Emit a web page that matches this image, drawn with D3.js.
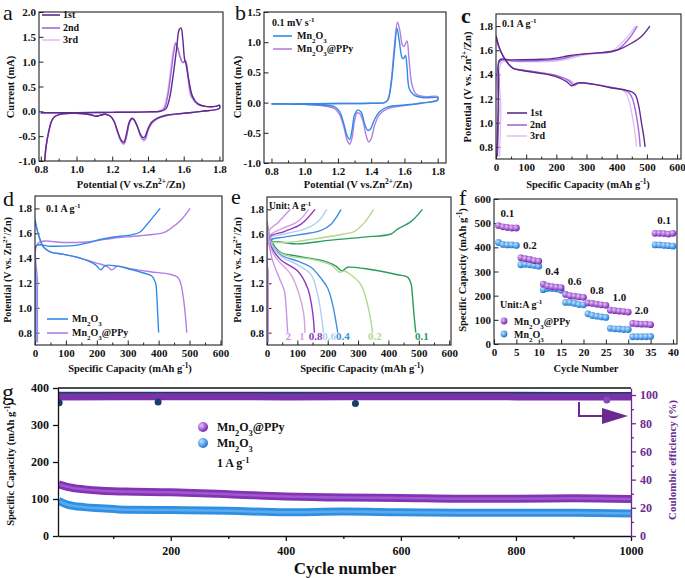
<!DOCTYPE html>
<html><head><meta charset="utf-8">
<script src="https://cdn.jsdelivr.net/npm/d3@7"></script>
<style>
body{margin:0;background:#fff;}
svg text{font-family:"Liberation Serif","Times New Roman",serif;font-weight:bold;}
</style></head><body>
<svg id="fig" width="685" height="578"></svg>
<script>
// ---------- DATA ----------
// (a) CV curves, three cycles [V, mA]
const cvA1 = [[0.80,-0.03],[1.0,-0.025],[1.2,-0.02],[1.4,-0.01],[1.47,0.0],[1.50,0.05],[1.52,0.25],[1.54,0.7],[1.56,1.25],[1.575,1.65],[1.585,1.68],[1.595,1.45],[1.605,1.05],[1.615,0.92],[1.63,0.6],[1.65,0.3],[1.68,0.15],[1.72,0.1],[1.78,0.1],[1.80,0.12],
  [1.80,0.06],[1.7,0.0],[1.6,-0.04],[1.5,-0.08],[1.45,-0.14],[1.42,-0.22],[1.40,-0.35],[1.385,-0.5],[1.375,-0.53],[1.36,-0.48],[1.34,-0.3],[1.32,-0.16],[1.31,-0.14],[1.295,-0.22],[1.28,-0.45],[1.265,-0.62],[1.25,-0.58],[1.23,-0.4],[1.21,-0.2],[1.19,-0.1],[1.16,-0.06],[1.13,-0.08],[1.11,-0.1],[1.08,-0.07],[1.0,-0.04],[0.92,-0.05],[0.88,-0.1],[0.86,-0.2],[0.845,-0.4],[0.83,-0.7],[0.822,-1.0]];
const cvA2 = [[0.80,-0.03],[1.0,-0.025],[1.2,-0.02],[1.4,-0.01],[1.46,0.0],[1.49,0.05],[1.51,0.3],[1.53,0.8],[1.545,1.2],[1.555,1.38],[1.565,1.3],[1.58,1.1],[1.595,0.98],[1.61,1.02],[1.625,0.7],[1.645,0.3],[1.68,0.14],[1.72,0.1],[1.78,0.1],[1.80,0.12],
  [1.80,0.06],[1.7,0.0],[1.6,-0.04],[1.5,-0.09],[1.45,-0.15],[1.42,-0.24],[1.40,-0.38],[1.385,-0.55],[1.375,-0.57],[1.36,-0.5],[1.34,-0.3],[1.32,-0.16],[1.31,-0.15],[1.295,-0.24],[1.28,-0.5],[1.265,-0.65],[1.25,-0.6],[1.23,-0.42],[1.21,-0.2],[1.19,-0.1],[1.16,-0.06],[1.13,-0.08],[1.11,-0.1],[1.08,-0.07],[1.0,-0.04],[0.92,-0.05],[0.88,-0.1],[0.86,-0.2],[0.845,-0.4],[0.83,-0.7],[0.822,-1.0]];
const cvA3 = [[0.80,-0.03],[1.0,-0.025],[1.2,-0.02],[1.4,-0.01],[1.455,0.0],[1.485,0.06],[1.505,0.3],[1.525,0.8],[1.54,1.2],[1.552,1.36],[1.562,1.3],[1.578,1.1],[1.595,0.98],[1.608,1.0],[1.622,0.7],[1.64,0.3],[1.68,0.14],[1.72,0.1],[1.78,0.1],[1.80,0.12],
  [1.80,0.06],[1.7,0.0],[1.6,-0.04],[1.5,-0.09],[1.45,-0.16],[1.42,-0.26],[1.40,-0.4],[1.385,-0.58],[1.375,-0.6],[1.36,-0.52],[1.34,-0.3],[1.32,-0.16],[1.31,-0.15],[1.295,-0.25],[1.28,-0.52],[1.265,-0.67],[1.25,-0.62],[1.23,-0.43],[1.21,-0.2],[1.19,-0.1],[1.16,-0.06],[1.13,-0.08],[1.11,-0.1],[1.08,-0.07],[1.0,-0.04],[0.92,-0.05],[0.88,-0.1],[0.86,-0.2],[0.845,-0.4],[0.83,-0.7],[0.822,-1.0]];
// (b) CV Mn2O3 vs Mn2O3@PPy
const cvBMn = [[0.80,-0.02],[1.0,-0.02],[1.2,-0.015],[1.4,-0.01],[1.48,0.0],[1.50,0.04],[1.52,0.3],[1.54,0.85],[1.555,1.23],[1.57,1.0],[1.585,0.75],[1.595,0.73],[1.606,0.78],[1.615,0.6],[1.63,0.22],[1.66,0.12],[1.72,0.08],[1.80,0.08],
  [1.80,0.04],[1.7,-0.01],[1.6,-0.04],[1.5,-0.07],[1.45,-0.15],[1.42,-0.28],[1.395,-0.44],[1.38,-0.46],[1.36,-0.35],[1.34,-0.16],[1.32,-0.12],[1.30,-0.2],[1.285,-0.45],[1.27,-0.61],[1.255,-0.55],[1.235,-0.35],[1.21,-0.15],[1.18,-0.07],[1.1,-0.04],[1.0,-0.03],[0.9,-0.025],[0.80,-0.025]];
const cvBPPy = [[0.80,-0.02],[1.0,-0.02],[1.2,-0.015],[1.4,-0.01],[1.48,0.0],[1.50,0.05],[1.52,0.35],[1.54,0.95],[1.558,1.33],[1.572,1.2],[1.588,0.95],[1.598,0.93],[1.615,1.02],[1.628,0.7],[1.645,0.3],[1.67,0.14],[1.72,0.1],[1.80,0.1],
  [1.80,0.05],[1.7,-0.01],[1.6,-0.05],[1.5,-0.1],[1.45,-0.2],[1.42,-0.38],[1.40,-0.6],[1.385,-0.65],[1.37,-0.55],[1.35,-0.3],[1.33,-0.18],[1.315,-0.17],[1.30,-0.3],[1.285,-0.58],[1.27,-0.69],[1.255,-0.62],[1.235,-0.4],[1.21,-0.2],[1.18,-0.1],[1.1,-0.05],[1.0,-0.03],[0.9,-0.025],[0.80,-0.025]];
// (c) GCD 1st/2nd/3rd at 0.1 A/g [mAh/g, V]
const c1Dis = [[0,1.72],[10,1.63],[24,1.55],[40,1.49],[57,1.45],[91,1.43],[146,1.41],[201,1.38],[234,1.34],[251,1.305],[262,1.32],[272,1.33],[320,1.32],[380,1.29],[430,1.27],[450,1.255],[462,1.23],[472,1.15],[482,1.0],[490,0.88],[494,0.8]];
const c2Dis = [[0,1.71],[10,1.62],[24,1.55],[40,1.49],[57,1.45],[91,1.435],[146,1.415],[201,1.39],[240,1.35],[258,1.31],[270,1.325],[280,1.33],[320,1.32],[380,1.295],[425,1.27],[440,1.25],[452,1.2],[462,1.1],[472,0.95],[478,0.8]];
const c3Dis = [[0,1.7],[10,1.62],[24,1.55],[40,1.49],[57,1.45],[91,1.435],[146,1.415],[201,1.39],[246,1.35],[265,1.315],[278,1.33],[320,1.32],[380,1.29],[420,1.27],[432,1.24],[442,1.17],[452,1.05],[460,0.92],[466,0.8]];
const c1Chg = [[3,0.72],[6,1.0],[9,1.35],[12,1.52],[50,1.52],[150,1.525],[200,1.535],[240,1.555],[290,1.57],[350,1.58],[400,1.6],[420,1.62],[450,1.66],[480,1.71],[510,1.8]];
const c2Chg = [[5,0.72],[9,1.1],[14,1.51],[60,1.51],[150,1.515],[210,1.525],[260,1.555],[300,1.57],[380,1.585],[400,1.6],[420,1.64],[445,1.71],[468,1.8]];
const c3Chg = [[12,0.72],[16,1.1],[20,1.5],[80,1.505],[200,1.51],[250,1.535],[300,1.565],[380,1.585],[395,1.61],[420,1.67],[445,1.74],[462,1.8]];
// (d) GCD Mn2O3 vs Mn2O3@PPy
const dMnDis = [[0,1.71],[10,1.6],[27,1.49],[49,1.45],[92,1.43],[146,1.40],[194,1.35],[213,1.305],[227,1.34],[265,1.335],[308,1.31],[351,1.28],[378,1.255],[390,1.2],[394,1.1],[397,0.95],[400,0.8]];
const dPPyDis = [[0,1.7],[10,1.6],[27,1.49],[49,1.45],[92,1.43],[146,1.40],[200,1.36],[235,1.33],[248,1.305],[258,1.32],[267,1.335],[308,1.315],[373,1.29],[437,1.27],[462,1.245],[472,1.19],[480,1.08],[486,0.95],[491,0.8]];
const dMnChg = [[3,0.72],[3,1.2],[4,1.5],[49,1.495],[124,1.50],[167,1.52],[211,1.55],[254,1.57],[308,1.585],[340,1.61],[362,1.67],[385,1.74],[405,1.8]];
const dPPyChg = [[8,0.72],[8,1.2],[10,1.52],[92,1.525],[167,1.53],[254,1.56],[340,1.58],[416,1.605],[440,1.64],[470,1.7],[502,1.8]];
// (e) rate GCD curves
const rateLabels = ["0.1","0.2","0.4","0.6","0.8","1","2"];
const e01Dis = [[0,1.7],[5,1.62],[13,1.56],[25,1.5],[46,1.45],[101,1.42],[189,1.38],[227,1.34],[246,1.30],[256,1.315],[265,1.33],[320,1.32],[430,1.27],[463,1.25],[474,1.2],[479,1.1],[484,0.95],[490,0.8]];
const e01Chg = [[2,0.72],[3,1.2],[4,1.52],[101,1.52],[211,1.55],[320,1.575],[408,1.6],[430,1.64],[474,1.7],[512,1.8]];
const e02Dis = [[0,1.7],[13,1.53],[30,1.47],[57,1.43],[156,1.39],[211,1.35],[238,1.29],[247,1.295],[254,1.30],[276,1.27],[309,1.19],[331,1.03],[348,0.8]];
const e02Chg = [[3,0.72],[4,1.2],[6,1.52],[50,1.53],[101,1.54],[156,1.56],[254,1.6],[287,1.62],[320,1.69],[351,1.8]];
const e04Dis = [[0,1.7],[13,1.52],[46,1.43],[101,1.38],[145,1.33],[178,1.24],[200,1.16],[216,1.03],[227,0.89],[233,0.8]];
const e04Chg = [[3,0.72],[4,1.2],[6,1.54],[57,1.575],[123,1.60],[178,1.63],[211,1.68],[244,1.8]];
const e06Dis = [[0,1.7],[13,1.52],[46,1.42],[101,1.35],[145,1.27],[167,1.11],[180,0.92],[186,0.8]];
const e06Chg = [[3,0.72],[4,1.2],[6,1.56],[57,1.6],[123,1.64],[167,1.7],[197,1.8]];
const e08Dis = [[0,1.7],[13,1.5],[46,1.39],[101,1.30],[134,1.16],[150,0.97],[156,0.8]];
const e08Chg = [[3,0.72],[4,1.2],[6,1.57],[57,1.62],[112,1.68],[158,1.8]];
const e1Dis = [[0,1.7],[13,1.48],[35,1.39],[79,1.27],[106,1.11],[121,0.95],[125,0.8]];
const e1Chg = [[3,0.72],[4,1.2],[6,1.58],[46,1.64],[101,1.7],[137,1.8]];
const e2Dis = [[0,1.7],[8,1.5],[19,1.38],[41,1.24],[57,1.14],[63,1.0],[68,0.8]];
const e2Chg = [[2,0.72],[3,1.2],[5,1.62],[35,1.69],[77,1.8]];
// (f) rate performance
const fCycles = d3.range(1, 41);
const fPPy = [490,485,482,480,480, 357,353,350,345,343, 248,240,237,235,233, 205,200,198,195,193, 170,168,165,162,160, 140,138,136,134,132, 85,83,82,82,80, 458,458,457,455,458];
const fMn  = [420,412,410,410,408, 328,330,328,325,322, 225,230,230,228,222, 172,172,168,163,162, 125,118,115,112,110, 65,63,62,60,60, 30,30,30,30,31, 410,410,408,407,405];
const fRateText = ["0.1","0.2","0.4","0.6","0.8","1.0","2.0","0.1"];
// (g) long cycling at 1 A/g
const gPPy = [[5,140],[20,133],[50,126],[80,122],[120,120],[200,118],[300,113],[400,107],[500,104],[600,103],[700,101],[800,101],[900,102],[1000,100]];
const gMn  = [[5,95],[20,85],[50,78],[80,75],[120,71],[200,70],[300,68],[400,64],[500,66],[600,64],[700,63],[800,63],[900,63],[1000,61]];
const ceMn  = [[5,100.5],[200,100.6],[400,100.5],[600,100.6],[800,100.5],[1000,100.4]];
const cePPy = [[5,98.6],[200,98.8],[400,98.7],[600,98.8],[800,98.7],[1000,98.7]];
const ceMnDips = [[6,94.5],[178,95],[521,94]];
const cePPyDips = [[958,96.5]];

// ---------- DRAWING ----------
const svg = d3.select('#fig');
const defs = svg.append('defs');
function sphereGrad(id, c0, c1){
  const g = defs.append('radialGradient').attr('id', id).attr('cx','35%').attr('cy','35%').attr('r','65%');
  g.append('stop').attr('offset','0%').attr('stop-color', c0);
  g.append('stop').attr('offset','100%').attr('stop-color', c1);
}
sphereGrad('gP', '#e6c4fa', '#7a26b2');
sphereGrad('gB', '#bfe3ff', '#1c78d6');

function rich(t, parts, fs){
  parts.forEach(([s,k]) => {
    const ts = t.append('tspan').text(s);
    if (k === 'sup') ts.attr('baseline-shift','super').style('font-size', (fs*0.7)+'px');
    else if (k === 'sub') ts.attr('baseline-shift','sub').style('font-size', (fs*0.7)+'px');
  });
  return t;
}
function text(x, y, parts, fs, opts={}){
  const t = svg.append('text').attr('x', x).attr('y', y).style('font-size', fs+'px')
    .attr('text-anchor', opts.anchor || 'start').attr('fill', opts.fill || '#111');
  if (opts.rotate) t.attr('transform', `rotate(-90,${x},${y})`);
  if (opts.normal) t.style('font-weight','normal');
  rich(t, typeof parts === 'string' ? [[parts,null]] : parts, fs);
  return t;
}
const MN = [["Mn",null],["2","sub"],["O",null],["3","sub"]];
const MNPPY = MN.concat([["@PPy",null]]);
const POT = [["Potential (V vs.Zn",null],["2+","sup"],["/Zn)",null]];
const POTY = [["Potential (V vs. Zn",null],["2+","sup"],["/Zn)",null]];
const CAP = [["Specific Capacity (mAh g",null],["-1","sup"],[")",null]];

let clipN = 0;
function panel(o){
  const x = d3.scaleLinear().domain(o.xd).range([o.l, o.r]);
  const y = d3.scaleLinear().domain(o.yd).range([o.b, o.t]);
  const g = svg.append('g');
  const fs = 11;
  const styl = s => { s.select('.domain').remove(); s.selectAll('line').attr('stroke','#222').attr('stroke-width',1); s.selectAll('text').style('font-size', fs+'px').attr('fill','#111'); };
  if (o.xminor) g.append('g').attr('transform',`translate(0,${o.b})`).call(d3.axisBottom(x).tickValues(o.xminor).tickSize(-2.5).tickFormat('')).call(styl);
  g.append('g').attr('transform',`translate(0,${o.b})`).call(d3.axisBottom(x).tickValues(o.xt).tickSize(-4.5).tickPadding(4).tickFormat(o.xf)).call(styl);
  if (o.yminor) g.append('g').attr('transform',`translate(${o.l},0)`).call(d3.axisLeft(y).tickValues(o.yminor).tickSize(-2.5).tickFormat('')).call(styl);
  g.append('g').attr('transform',`translate(${o.l},0)`).call(d3.axisLeft(y).tickValues(o.yt).tickSize(-4.5).tickPadding(3).tickFormat(o.yf)).call(styl);
  const id = 'clip' + (clipN++);
  defs.append('clipPath').attr('id', id).append('rect').attr('x', o.l).attr('y', o.t).attr('width', o.r-o.l).attr('height', o.b-o.t);
  const plot = svg.append('g').attr('clip-path', `url(#${id})`);
  svg.append('rect').attr('x', o.l).attr('y', o.t).attr('width', o.r-o.l).attr('height', o.b-o.t)
    .attr('fill','none').attr('stroke','#222').attr('stroke-width',1.1);
  return {x, y, plot};
}
function curve(p, data, color, w){
  const line = d3.line().x(d => p.x(d[0])).y(d => p.y(d[1])).curve(d3.curveCatmullRom.alpha(0.5));
  p.plot.append('path').datum(data).attr('d', line).attr('fill','none').attr('stroke', color).attr('stroke-width', w || 1.4).attr('stroke-linejoin','round');
}
const f1 = d => d.toFixed(1);
const f0 = d => String(d);
const C1 = '#5e2a8c', C2 = '#a468dc', C3 = '#dcc2f2';
const CB = '#2e8be6', CV = '#b47ce8';

// ---- panel a ----
const pa = panel({l:39, r:223, t:12, b:161, xd:[0.79,1.82], yd:[-1,2],
  xt:d3.range(0.8,1.81,0.2), xminor:d3.range(0.9,1.81,0.2), yt:d3.range(-1,2.01,0.5), xf:f1, yf:f1});
curve(pa, cvA3, C3); curve(pa, cvA2, C2); curve(pa, cvA1, C1);
[[C1,'1st',18],[C2,'2nd',31],[C3,'3rd',43]].forEach(([c,s,yy]) => {
  svg.append('line').attr('x1',42).attr('x2',60).attr('y1',yy-3).attr('y2',yy-3).attr('stroke',c).attr('stroke-width',1.6);
  text(63, yy, s, 10);
});
text(131, 188, POT, 10.5, {anchor:'middle'});
text(14, 87, 'Current (mA)', 10.5, {anchor:'middle', rotate:true});
text(3, 20, 'a', 22, {normal:true});

// ---- panel b ----
const pb = panel({l:264, r:446, t:12, b:163, xd:[0.755,1.85], yd:[-1,1.5],
  xt:d3.range(0.8,1.81,0.2), xminor:d3.range(0.9,1.81,0.2), yt:d3.range(-1,1.51,0.5), xf:f1, yf:f1});
curve(pb, cvBPPy, CV); curve(pb, cvBMn, CB);
text(272, 26, [["0.1 mV s",null],["-1","sup"]], 10);
svg.append('line').attr('x1',273).attr('x2',292).attr('y1',36).attr('y2',36).attr('stroke',CB).attr('stroke-width',1.6);
text(297, 39, MN, 10);
svg.append('line').attr('x1',273).attr('x2',292).attr('y1',49).attr('y2',49).attr('stroke',CV).attr('stroke-width',1.6);
text(297, 52, MNPPY, 10);
text(358, 188, POT, 10.5, {anchor:'middle'});
text(241, 87, 'Current (mA)', 10.5, {anchor:'middle', rotate:true});
text(235, 20, 'b', 22, {normal:true});

// ---- panel c ----
const pc = panel({l:496, r:681, t:14, b:159, xd:[0,613], yd:[0.7,1.9],
  xt:d3.range(0,601,100), xminor:d3.range(50,601,100), yt:d3.range(0.8,1.81,0.2), xf:f0, yf:f1});
[[c3Dis,c3Chg,C3],[c2Dis,c2Chg,C2],[c1Dis,c1Chg,C1]].forEach(([a,b,c]) => { curve(pc,a,c); curve(pc,b,c); });
text(502, 27, [["0.1 A g",null],["-1","sup"]], 10);
[[C1,'1st',116],[C2,'2nd',128],[C3,'3rd',139]].forEach(([c,s,yy]) => {
  svg.append('line').attr('x1',507).attr('x2',527).attr('y1',yy-3).attr('y2',yy-3).attr('stroke',c).attr('stroke-width',1.6);
  text(530, yy, s, 10);
});
text(588, 188, CAP, 10.5, {anchor:'middle'});
text(471, 87, POTY, 10.5, {anchor:'middle', rotate:true});
text(461, 23, 'c', 22);

// ---- panel d ----
const pd = panel({l:35, r:222, t:196, b:345, xd:[0,605], yd:[0.7,1.9],
  xt:d3.range(0,601,100), xminor:d3.range(50,601,100), yt:d3.range(0.8,1.81,0.2), xf:f0, yf:f1});
curve(pd, dPPyDis, CV); curve(pd, dPPyChg, CV); curve(pd, dMnDis, CB); curve(pd, dMnChg, CB);
text(46, 212, [["0.1 A g",null],["-1","sup"]], 10);
svg.append('line').attr('x1',47).attr('x2',68).attr('y1',319).attr('y2',319).attr('stroke',CB).attr('stroke-width',1.6);
text(72, 322, MN, 10);
svg.append('line').attr('x1',47).attr('x2',68).attr('y1',333).attr('y2',333).attr('stroke',CV).attr('stroke-width',1.6);
text(72, 336, MNPPY, 10);
text(130, 372, CAP, 10.5, {anchor:'middle'});
text(11, 270, POTY, 10, {anchor:'middle', rotate:true});
text(3, 206, 'd', 22, {normal:true});

// ---- panel e ----
const pe = panel({l:267, r:451, t:197, b:345, xd:[0,606], yd:[0.7,1.9],
  xt:d3.range(0,601,100), xminor:d3.range(50,601,100), yt:d3.range(0.8,1.81,0.2), xf:f0, yf:f1});
const eColors = ['#2a9a60','#b2d892','#3f8fe2','#b0d0f2','#8e35c8','#d8a2dc','#c894e8'];
const eSets = [[e01Dis,e01Chg],[e02Dis,e02Chg],[e04Dis,e04Chg],[e06Dis,e06Chg],[e08Dis,e08Chg],[e1Dis,e1Chg],[e2Dis,e2Chg]];
eSets.forEach(([a,b],i) => { curve(pe,a,eColors[i]); curve(pe,b,eColors[i]); });
const eLabelX = [500,355,250,205,160,125,70];
rateLabels.forEach((s,i) => {
  text(pe.x(eLabelX[i]) + (i===0?3:(i===5?-3:0)), 340, s, 11, {anchor:'middle', fill:eColors[i]});
});
text(269, 209, [["Unit: A g",null],["-1","sup"]], 9.5);
text(362, 372, CAP, 10.5, {anchor:'middle'});
text(241, 270, POTY, 10, {anchor:'middle', rotate:true});
text(231, 204, 'e', 22, {normal:true});

// ---- panel f ----
const pf = panel({l:494, r:677, t:199, b:344, xd:[0,40.9], yd:[0,600],
  xt:d3.range(0,41,5), yt:d3.range(0,601,100), xf:f0, yf:f0});
fCycles.forEach((c,i) => {
  pf.plot.append('circle').attr('cx', pf.x(c)).attr('cy', pf.y(fMn[i])).attr('r', 3.4).attr('fill','url(#gB)');
  pf.plot.append('circle').attr('cx', pf.x(c)).attr('cy', pf.y(fPPy[i])).attr('r', 3.4).attr('fill','url(#gP)');
});
fRateText.forEach((s,i) => {
  const i0 = i*5, grp = fPPy.slice(i0, i0+5);
  const cx = pf.x(fCycles[i0] + 2);
  text(cx, pf.y(d3.max(grp)) - 9, s, 11, {anchor:'middle'});
});
text(500, 308, [["Unit:A g",null],["-1","sup"]], 10);
svg.append('circle').attr('cx',504).attr('cy',321).attr('r',3.4).attr('fill','url(#gP)');
text(514, 325, MNPPY, 10);
svg.append('circle').attr('cx',504).attr('cy',334).attr('r',3.4).attr('fill','url(#gB)');
text(514, 338, MN, 10);
text(586, 372, 'Cycle Number', 10.5, {anchor:'middle'});
text(466, 270, CAP, 10.5, {anchor:'middle', rotate:true});
text(459, 205, 'f', 22, {normal:true});

// ---- panel g ----
const gx = d3.scaleLinear().domain([4,1000]).range([58,631]);
const gy = d3.scaleLinear().domain([0,400]).range([536,388]);
const gy2 = d3.scaleLinear().domain([0,105]).range([536,388]);
const PUR = '#6c2a90';
defs.append('clipPath').attr('id','clipG').append('rect').attr('x',58).attr('y',386).attr('width',573).attr('height',150);
const gPlot = svg.append('g').attr('clip-path','url(#clipG)');
const lineG = (ys) => d3.line().x(d => gx(d[0])).y(d => ys(d[1])).curve(d3.curveMonotoneX);
gPlot.append('path').datum(gMn).attr('d', lineG(gy)).attr('fill','none').attr('stroke','#2f8fe0').attr('stroke-width',8);
gPlot.append('path').datum(gMn).attr('d', lineG(gy)).attr('fill','none').attr('stroke','#5aaaf0').attr('stroke-width',2.5);
gPlot.append('path').datum(gPPy).attr('d', lineG(gy)).attr('fill','none').attr('stroke','#8234b4').attr('stroke-width',8);
gPlot.append('path').datum(gPPy).attr('d', lineG(gy)).attr('fill','none').attr('stroke','#a058d0').attr('stroke-width',2.5);
gPlot.append('path').datum(ceMn).attr('d', lineG(gy2)).attr('fill','none').attr('stroke','#1d3c6e').attr('stroke-width',5);
gPlot.append('path').datum(cePPy).attr('d', lineG(gy2)).attr('fill','none').attr('stroke','#7a32a8').attr('stroke-width',7);
ceMnDips.forEach(d => gPlot.append('circle').attr('cx',gx(d[0])).attr('cy',gy2(d[1])).attr('r',3.5).attr('fill','#1d3c6e'));
cePPyDips.forEach(d => gPlot.append('circle').attr('cx',gx(d[0])).attr('cy',gy2(d[1])).attr('r',3.5).attr('fill','#8a48b8'));
const gs = (s, col) => { s.selectAll('path,line').attr('stroke', col).attr('stroke-width',1.3); s.selectAll('text').style('font-size','12px').attr('fill', col); };
const fd = d3.format('d');
svg.append('g').attr('transform','translate(0,536)').call(d3.axisBottom(gx).tickValues(d3.range(100,1000,200)).tickSize(3).tickFormat('')).call(s=>{s.select('.domain').remove(); gs(s,'#111');});
svg.append('g').attr('transform','translate(0,536)').call(d3.axisBottom(gx).tickValues(d3.range(200,1001,200)).tickSize(5).tickPadding(5).tickSizeOuter(0).tickFormat(fd)).call(s=>gs(s,'#111'));
svg.append('g').attr('transform','translate(58,0)').call(d3.axisLeft(gy).tickValues(d3.range(0,401,100)).tickSize(5).tickPadding(4).tickSizeOuter(0).tickFormat(fd)).call(s=>gs(s,'#111'));
svg.append('g').attr('transform','translate(631,0)').call(d3.axisRight(gy2).tickValues(d3.range(10,101,20)).tickSize(3).tickFormat('')).call(s=>{s.select('.domain').remove(); gs(s,PUR);});
svg.append('g').attr('transform','translate(631,0)').call(d3.axisRight(gy2).tickValues(d3.range(0,101,20)).tickSize(5).tickPadding(4).tickSizeOuter(0).tickFormat(fd)).call(s=>gs(s,PUR));
svg.append('line').attr('x1',58).attr('x2',631).attr('y1',388).attr('y2',388).attr('stroke','#111').attr('stroke-width',1.3);
svg.append('circle').attr('cx',203).attr('cy',427).attr('r',5).attr('fill','url(#gP)');
text(217, 431, MNPPY, 12);
svg.append('circle').attr('cx',203).attr('cy',443).attr('r',5).attr('fill','url(#gB)');
text(217, 447, MN, 12);
text(217, 467, [["1 A g",null],["-1","sup"]], 12);
svg.append('path').attr('d','M579,402 V416 H604').attr('fill','none').attr('stroke',PUR).attr('stroke-width',2);
svg.append('path').attr('d','M602,408 L628,416 L602,424 Z').attr('fill',PUR);
text(345, 574, 'Cycle number', 17, {anchor:'middle'});
text(14, 464, CAP, 10.5, {anchor:'middle', rotate:true});
text(676, 460, 'Coulombic efficiency (%)', 11, {anchor:'middle', rotate:true, fill:PUR});
text(2, 400, 'g', 24, {normal:true});
</script>
</body></html>
